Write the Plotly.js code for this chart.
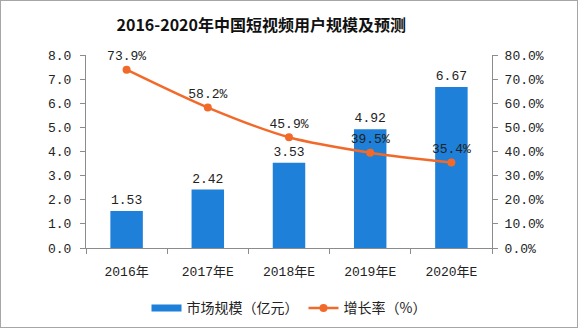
<!DOCTYPE html>
<html>
<head>
<meta charset="utf-8">
<script src="https://cdn.plot.ly/plotly-3.0.1.min.js"></script>
<style>
  html, body { margin: 0; padding: 0; background: #fff; }
  #frame { width: 576px; height: 326px; border: 1px solid #a6a6a6; position: relative; }
  #chart { position: absolute; left: -1px; top: -1px; width: 578px; height: 328px; }
</style>
</head>
<body>
<div id="frame"><div id="chart"></div></div>
<script>
// Short-video market size (100M yuan) and growth rate, 2016-2020
const years = ['2016年', '2017年E', '2018年E', '2019年E', '2020年E'];
const marketSize = [1.53, 2.42, 3.53, 4.92, 6.67];
const growthRate = [73.9, 58.2, 45.9, 39.5, 35.4];
const leftTicks = [0, 1, 2, 3, 4, 5, 6, 7, 8];
const rightTicks = [0, 10, 20, 30, 40, 50, 60, 70, 80];

const FONT = '"Liberation Mono", "Noto Sans CJK SC", monospace';
const BLUE = '#1e80d8';
const ORANGE = '#f26a2a';
const AXIS = '#8c8c8c';

const barTrace = {
  type: 'bar',
  name: '市场规模（亿元）',
  x: years,
  y: marketSize,
  marker: { color: BLUE },
  width: 0.4,
  text: marketSize.map(v => v.toFixed(2)),
  textposition: 'outside',
  textfont: { family: FONT, size: 13, color: '#222' },
  cliponaxis: false,
  showlegend: false,
  hoverinfo: 'skip'
};

// legend entry for the bars, drawn as a flat blue strip
const barLegend = {
  type: 'scatter',
  mode: 'lines',
  name: '市场规模（亿元）',
  x: [null],
  y: [null],
  line: { color: BLUE, width: 7 },
  hoverinfo: 'skip'
};

const lineTrace = {
  type: 'scatter',
  mode: 'lines+markers+text',
  name: '增长率（%）',
  x: years,
  y: growthRate,
  yaxis: 'y2',
  line: { color: ORANGE, width: 2.5, shape: 'spline', smoothing: 0.8 },
  marker: { color: ORANGE, size: 8 },
  text: growthRate.map(v => v.toFixed(1) + '%'),
  textposition: 'top center',
  textfont: { family: FONT, size: 13, color: '#222' },
  cliponaxis: false,
  hoverinfo: 'skip'
};

const layout = {
  width: 578,
  height: 328,
  margin: { l: 86, r: 86, t: 55, b: 80 },
  paper_bgcolor: 'rgba(0,0,0,0)',
  plot_bgcolor: 'rgba(0,0,0,0)',
  font: { family: FONT, size: 13, color: '#222' },
  title: {
    text: '<b>2016-2020年中国短视频用户规模及预测</b>',
    font: { family: '"Noto Sans CJK SC", sans-serif', size: 16, color: '#111' },
    x: 0.452, xanchor: 'center',
    y: 0.922, yanchor: 'middle'
  },
  showlegend: true,
  legend: {
    orientation: 'h',
    xref: 'paper', yref: 'container',
    x: 0.5, xanchor: 'center',
    y: 0.06, yanchor: 'middle',
    font: { family: '"Noto Sans CJK SC", sans-serif', size: 14, color: '#222' },
    itemwidth: 30,
    traceorder: 'normal'
  },
  xaxis: {
    type: 'category',
    automargin: false,
    showline: true, linecolor: AXIS, linewidth: 1,
    ticks: 'outside', tickson: 'boundaries', ticklen: 5, tickcolor: AXIS,
    showgrid: false,
    tickfont: { family: FONT, size: 13, color: '#222' },
    ticklabelstandoff: 11,
    fixedrange: true
  },
  yaxis: {
    range: [0, 8],
    automargin: false,
    tickvals: leftTicks,
    ticktext: leftTicks.map(v => v.toFixed(1)),
    showline: true, linecolor: AXIS, linewidth: 1,
    ticks: 'outside', ticklen: 5, tickcolor: AXIS,
    showgrid: false, zeroline: false,
    tickfont: { family: FONT, size: 13, color: '#222' },
    ticklabelstandoff: 6,
    fixedrange: true
  },
  yaxis2: {
    overlaying: 'y',
    side: 'right',
    range: [0, 80],
    automargin: false,
    tickvals: rightTicks,
    ticktext: rightTicks.map(v => v.toFixed(1) + '%'),
    showline: true, linecolor: AXIS, linewidth: 1,
    ticks: 'outside', ticklen: 5, tickcolor: AXIS,
    showgrid: false, zeroline: false,
    tickfont: { family: FONT, size: 13, color: '#222' },
    ticklabelstandoff: 4,
    fixedrange: true
  }
};

Plotly.newPlot('chart', [barTrace, barLegend, lineTrace], layout, { staticPlot: true, displayModeBar: false });
</script>
</body>
</html>
